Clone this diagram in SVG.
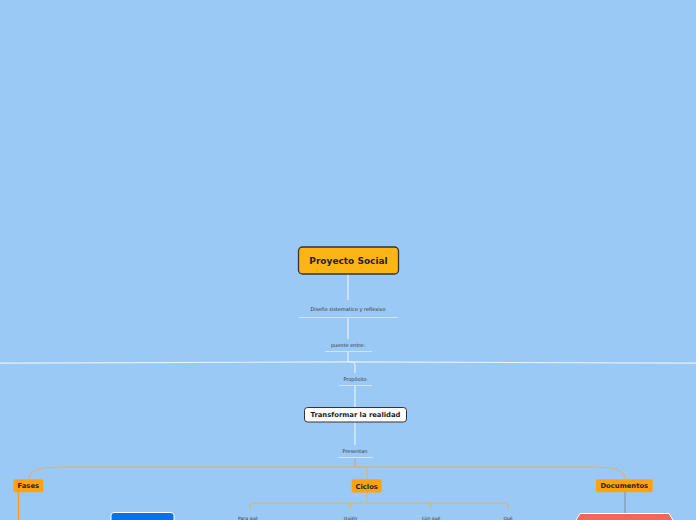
<svg xmlns="http://www.w3.org/2000/svg" width="696" height="520" viewBox="0 0 696 520">
<style>
.lbl{font-family:"DejaVu Sans","Liberation Sans",sans-serif;font-size:5px;fill:#333;text-anchor:middle}
.sm{font-size:4.5px}
.ttl{font-family:"DejaVu Sans","Liberation Sans",sans-serif;font-weight:bold;fill:#222;text-anchor:middle}
.ul{stroke:#cfe4fa;stroke-width:1;fill:none}
.w{stroke:#e8f2fd;stroke-width:1.2;fill:none}
.o{stroke:#dcb272;stroke-width:1.2;fill:none}
</style>
<rect width="696" height="520" fill="#9bc9f5"/>
<g id="connectors">
<path class="w" d="M348 274V300"/>
<path class="w" d="M348 318V339"/>
<path class="w" d="M348 351V362"/>
<path class="w" d="M0 363.2C120 361.5 580 361.5 696 363.2" stroke-width="1.4"/>
<path class="w" d="M348 362H352Q355 362 355 366V373"/>
<path class="w" d="M355 385V407"/>
<path class="w" d="M355 422V445"/>
<path d="M355 457V467" stroke="#b9a58a" stroke-width="1" fill="none"/>
<path class="o" d="M29 479Q29 467 60 467H595Q625 467 625 479"/>
<path class="o" d="M355 467H363Q367 467 367 472V479"/>
<path d="M18.5 492V520" stroke="#ff9f1a" stroke-width="1.3" fill="none"/>
<path d="M625 492V513" stroke="#7f8b99" stroke-width="1" fill="none"/>
<path class="o" d="M367 492V503"/>
<path class="o" d="M250 509V506Q250 503 254 503H504Q508 503 508 506V509"/>
<path class="o" d="M350.5 509V506Q350.5 503 354 503"/>
<path class="o" d="M431 509V506Q431 503 427 503"/>
</g>
<g id="n-proyecto">
<rect x="298.5" y="247" width="100" height="27" rx="4" fill="#fdb515" stroke="#333" stroke-width="1.3"/>
<text class="ttl" x="348.5" y="264" font-size="9">Proyecto Social</text>
</g>
<g id="n-diseno">
<text class="lbl" x="348" y="311">Diseño sistematico y reflexivo</text>
<path class="ul" d="M299 317.5H398"/>
</g>
<g id="n-puente">
<text class="lbl" x="348" y="347">puente entre:</text>
<path class="ul" d="M325 351.5H372"/>
</g>
<g id="n-proposito">
<text class="lbl" x="355" y="381">Propósito</text>
<path class="ul" d="M339 385.5H372"/>
</g>
<g id="n-transformar">
<rect x="304.5" y="407.5" width="102" height="14.5" rx="3" fill="#fff" stroke="#333" stroke-width="1"/>
<text class="ttl" x="355.5" y="417.3" font-size="6.8">Transformar la realidad</text>
</g>
<g id="n-presentan">
<text class="lbl" x="355" y="453">Presentan</text>
<path class="ul" d="M338 457.5H373"/>
</g>
<g id="n-fases">
<rect x="13.3" y="479.3" width="30" height="13" rx="2" fill="#ffa20f"/>
<text class="ttl" x="28.3" y="488.3" font-size="6.8">Fases</text>
</g>
<g id="n-ciclos">
<rect x="351.7" y="479.3" width="30" height="13.3" rx="2" fill="#ffa20f"/>
<text class="ttl" x="366.7" y="488.5" font-size="6.8">Ciclos</text>
</g>
<g id="n-documentos">
<rect x="596" y="479.3" width="56.7" height="13" rx="2" fill="#ffa20f"/>
<text class="ttl" x="624.3" y="488.3" font-size="6.8">Documentos</text>
</g>
<g id="n-paraque"><text class="lbl sm" x="248" y="520">Para qué</text></g>
<g id="n-quien"><text class="lbl sm" x="350.5" y="520">Quién</text></g>
<g id="n-conque"><text class="lbl sm" x="431" y="520">Con qué</text></g>
<g id="n-que"><text class="lbl sm" x="508" y="520">Qué</text></g>
<g id="n-blue">
<rect x="111" y="512.5" width="63" height="20" rx="3" fill="#0a72e6" stroke="#fff" stroke-width="1"/>
</g>
<g id="n-red">
<path d="M580 513.5H669L676 525H573Z" fill="#f1675a" stroke="#fff" stroke-width="1"/>
</g>
</svg>
